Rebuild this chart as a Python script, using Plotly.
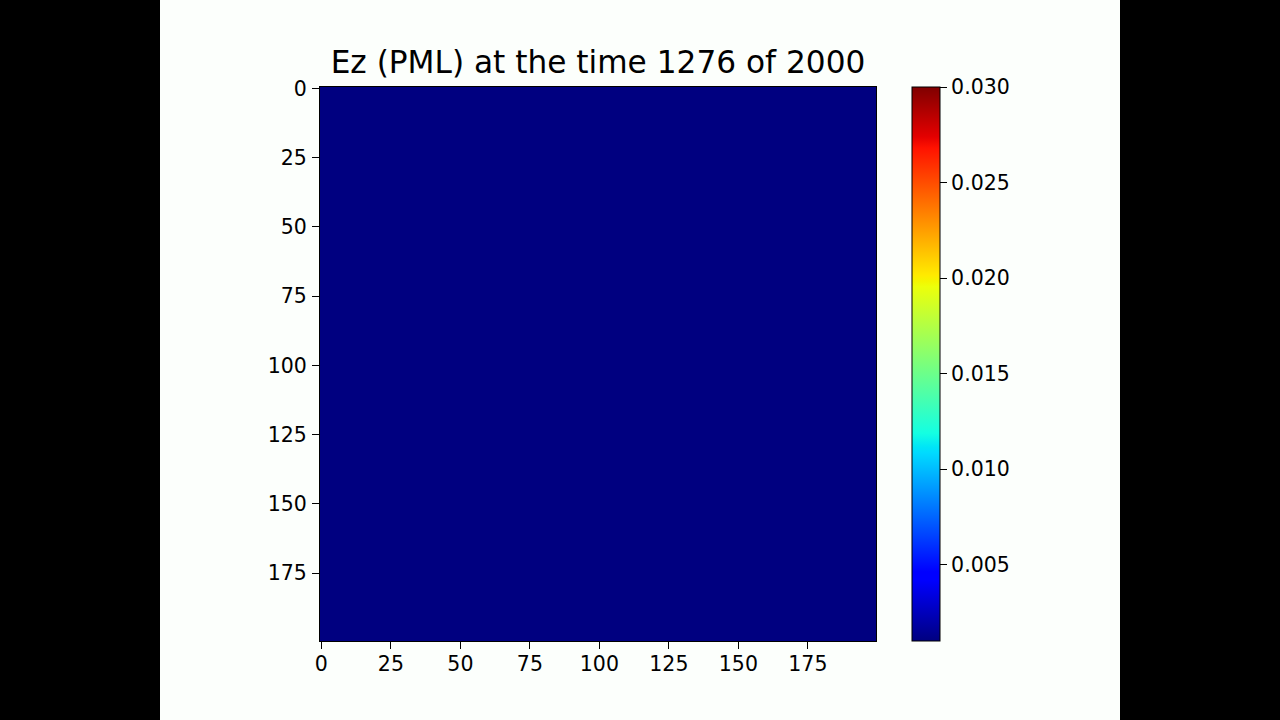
import plotly.graph_objects as go

# ---- data ----
n_rows = 200
n_cols = 200
field_value = 0.001          # whole field sits at the bottom of the colour range
z_min = 0.001
z_max = 0.030
x_ticks = [0, 25, 50, 75, 100, 125, 150, 175]
y_ticks = [0, 25, 50, 75, 100, 125, 150, 175]
cbar_ticks = [0.005, 0.010, 0.015, 0.020, 0.025, 0.030]
title_text = "Ez (PML) at the time 1276 of 2000"

z = [[field_value] * n_cols for _ in range(n_rows)]
xs = list(range(n_cols))
ys = list(range(n_rows))

# matplotlib "jet" colormap
jet = [
    [0.0, "rgb(0,0,128)"], [0.11, "rgb(0,0,255)"], [0.125, "rgb(0,0,255)"],
    [0.34, "rgb(0,219,255)"], [0.35, "rgb(0,229,247)"], [0.375, "rgb(20,255,226)"],
    [0.64, "rgb(237,255,10)"], [0.65, "rgb(245,245,0)"], [0.66, "rgb(255,235,0)"],
    [0.89, "rgb(255,18,0)"], [0.91, "rgb(228,0,0)"], [1.0, "rgb(128,0,0)"],
]

W, H = 1280, 720
ax_l, ax_r, ax_t, ax_b = 320, 876, 87, 641
cb_l, cb_w = 912, 28
font = "DejaVu Sans"
fs = 20.5

fig = go.Figure(go.Heatmap(
    z=z, x=xs, y=ys, colorscale=jet, zmin=z_min, zmax=z_max,
    colorbar=dict(
        x=cb_l / W, xanchor="left", xpad=0,
        y=1 - (ax_t + ax_b) / 2 / H, yanchor="middle", ypad=0,
        len=(ax_b - ax_t) / H, lenmode="fraction",
        thickness=cb_w, thicknessmode="pixels",
        outlinewidth=1, outlinecolor="black",
        tickvals=cbar_ticks, tickformat=".3f", tickprefix="\u00a0",
        ticks="outside", ticklen=7, tickcolor="black", tickwidth=1,
        tickfont=dict(family=font, size=fs, color="black"),
    ),
    hoverinfo="skip",
))

axis_common = dict(
    ticks="outside", ticklen=7, tickcolor="black", tickwidth=1,
    showline=True, mirror=True, linecolor="black", linewidth=1,
    showgrid=False, zeroline=False,
    tickfont=dict(family=font, size=fs, color="black"),
)

fig.update_layout(
    width=W, height=H,
    margin=dict(l=0, r=0, t=0, b=0, autoexpand=False),
    paper_bgcolor="black",
    plot_bgcolor="white",
    font=dict(family=font, color="black"),
    title=dict(text=title_text, x=(ax_l + ax_r) / 2 / W, xanchor="center",
               y=1 - 62 / H, yanchor="middle", yref="container",
               font=dict(family=font, size=31.2, color="black")),
    shapes=[dict(type="rect", xref="paper", yref="paper", x0=160 / W, x1=1120 / W,
                 y0=0, y1=1, fillcolor="#fcfffc", line=dict(width=0), layer="below")],
    xaxis=dict(domain=[ax_l / W, ax_r / W], range=[-0.5, n_cols - 0.5],
               tickvals=x_ticks, ticklabelstandoff=-3, **axis_common),
    yaxis=dict(domain=[1 - ax_b / H, 1 - ax_t / H], range=[n_rows - 0.5, -0.5],
               tickvals=y_ticks, ticklabelstandoff=1, **axis_common),
)

fig.write_html(
    "out.html",
    config={"displayModeBar": False},
    post_script="document.body.style.margin='0';document.body.style.overflow='hidden';",
)
